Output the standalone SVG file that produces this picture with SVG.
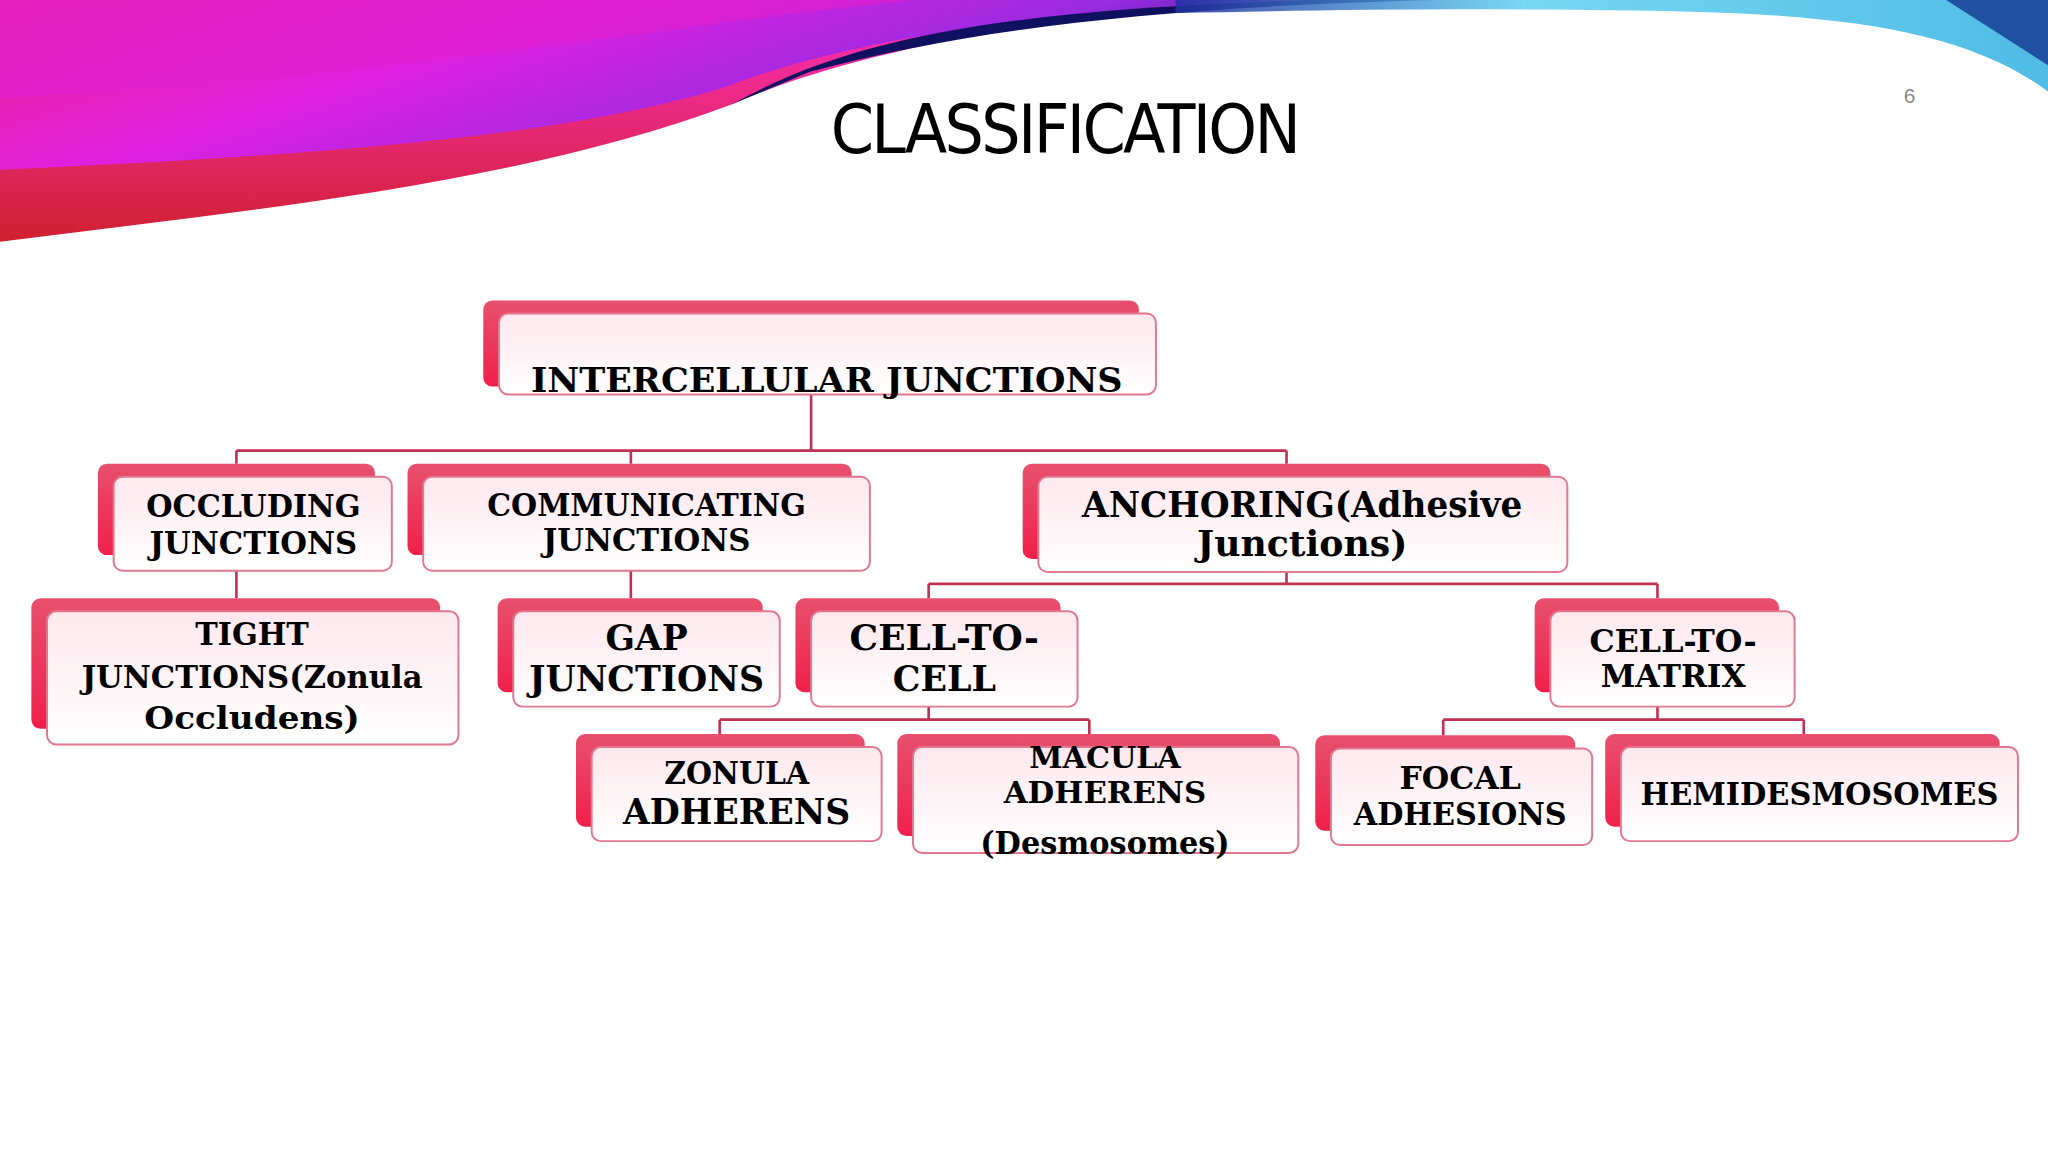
<svg xmlns="http://www.w3.org/2000/svg" width="2048" height="1152" viewBox="0 0 2048 1152">
<defs>
<linearGradient id="pk" x1="0" y1="0" x2="1" y2="0.4"><stop offset="0" stop-color="#f0208a"/><stop offset="0.4" stop-color="#e020e0"/><stop offset="0.75" stop-color="#9a2be0"/><stop offset="1" stop-color="#20208a"/></linearGradient>
<linearGradient id="rd" x1="0" y1="0" x2="0" y2="1"><stop offset="0" stop-color="#ff30c0"/><stop offset="1" stop-color="#d02030"/></linearGradient>
<linearGradient id="bl" x1="0" y1="0" x2="1" y2="0"><stop offset="0" stop-color="#2030a0"/><stop offset="0.4" stop-color="#60d0f0"/><stop offset="1" stop-color="#30b0e0"/></linearGradient>
<linearGradient id="fr" x1="0" y1="0" x2="0" y2="1"><stop offset="0" stop-color="#fde8ee"/><stop offset="1" stop-color="#ffffff"/></linearGradient>
<linearGradient id="bk" x1="0" y1="0" x2="0" y2="1"><stop offset="0" stop-color="#e8506e"/><stop offset="1" stop-color="#f0204a"/></linearGradient>
<style>
.b{fill:url(#bk)}
.f{fill:url(#fr);stroke:#e07890;stroke-width:1.5}
.t{font-family:"DejaVu Serif",serif;font-weight:bold;fill:#000;text-anchor:middle}
.c{stroke:#c03050;stroke-width:2;fill:none}
</style>
</defs>
<rect width="2048" height="1152" fill="#fff"/>
<g transform="scale(1.30612)">
<g id="bg">
<path d="M0,0 L1000,0 C800,10 650,40 560,80 C400,140 200,160 0,185 Z" fill="url(#rd)"/>
<path d="M0,0 L980,0 C800,8 650,30 560,65 C420,110 200,120 0,130 Z" fill="url(#pk)"/>
<path d="M0,0 L700,0 C500,20 300,60 0,75 Z" fill="#e020d0" opacity="0.7"/>
<path d="M560,80 C650,30 760,8 1000,0 L1100,0 C900,5 750,20 620,55 Z" fill="#101060"/>
<path d="M900,0 L1568,0 L1568,70 C1500,20 1400,10 1250,8 C1100,6 1000,8 900,10 Z" fill="url(#bl)" opacity="0.85"/>
<path d="M1490,0 L1568,0 L1568,50 Z" fill="#2050a0"/>
</g>
<text x="815" y="117" font-family="'Liberation Sans Narrow','DejaVu Sans Condensed',sans-serif" font-size="52" textLength="358" lengthAdjust="spacingAndGlyphs" text-anchor="middle" letter-spacing="-2">CLASSIFICATION</text>
<text x="1462" y="79" font-family="'Liberation Sans',sans-serif" font-size="16" fill="#888" text-anchor="middle">6</text>
<g id="connectors">
<path class="c" d="M621,302V345M181,345H985M181,345V355M483,345V355M985,345V355"/>
<path class="c" d="M181,437V458M483,437V458"/>
<path class="c" d="M985,438V447M711,447H1269M711,447V458M1269,447V458"/>
<path class="c" d="M711,541V551M551,551H834M551,551V562M834,551V562"/>
<path class="c" d="M1269,541V551M1105,551H1381M1105,551V563M1381,551V562"/>
</g>
<g id="n1"><rect class="b" x="370" y="230" width="502" height="66" rx="7"/><rect class="f" x="382" y="240" width="503" height="62" rx="7"/><text class="t" x="633" y="300" font-size="26" textLength="453" lengthAdjust="spacingAndGlyphs">INTERCELLULAR JUNCTIONS</text></g>
<g id="n2"><rect class="b" x="75" y="355" width="212" height="70" rx="7"/><rect class="f" x="87" y="365" width="213" height="72" rx="7"/><text class="t" font-size="24" x="194" y="396" textLength="164" lengthAdjust="spacingAndGlyphs">OCCLUDING</text><text class="t" font-size="24" x="194" y="424" textLength="159" lengthAdjust="spacingAndGlyphs">JUNCTIONS</text></g>
<g id="n3"><rect class="b" x="312" y="355" width="340" height="70" rx="7"/><rect class="f" x="324" y="365" width="342" height="72" rx="7"/><text class="t" font-size="24" x="495" y="395" textLength="244" lengthAdjust="spacingAndGlyphs">COMMUNICATING</text><text class="t" font-size="24" x="495" y="422" textLength="159" lengthAdjust="spacingAndGlyphs">JUNCTIONS</text></g>
<g id="n4"><rect class="b" x="783" y="355" width="404" height="73" rx="7"/><rect class="f" x="795" y="365" width="405" height="73" rx="7"/><text class="t" font-size="27" x="997" y="396" textLength="337" lengthAdjust="spacingAndGlyphs">ANCHORING(Adhesive</text><text class="t" font-size="27" x="997" y="426" textLength="161" lengthAdjust="spacingAndGlyphs">Junctions)</text></g>
<g id="n5"><rect class="b" x="24" y="458" width="313" height="100" rx="7"/><rect class="f" x="36" y="468" width="315" height="102" rx="7"/><text class="t" font-size="24" x="193" y="494" textLength="87" lengthAdjust="spacingAndGlyphs">TIGHT</text><text class="t" font-size="24" x="193" y="527" textLength="261" lengthAdjust="spacingAndGlyphs">JUNCTIONS(Zonula</text><text class="t" font-size="24" x="193" y="558" textLength="165" lengthAdjust="spacingAndGlyphs">Occludens)</text></g>
<g id="n6"><rect class="b" x="381" y="458" width="203" height="72" rx="7"/><rect class="f" x="393" y="468" width="204" height="73" rx="7"/><text class="t" font-size="27" x="495" y="498" textLength="63" lengthAdjust="spacingAndGlyphs">GAP</text><text class="t" font-size="27" x="495" y="529" textLength="180" lengthAdjust="spacingAndGlyphs">JUNCTIONS</text></g>
<g id="n7"><rect class="b" x="609" y="458" width="203" height="72" rx="7"/><rect class="f" x="621" y="468" width="204" height="73" rx="7"/><text class="t" font-size="27" x="723" y="498" textLength="145" lengthAdjust="spacingAndGlyphs">CELL-TO-</text><text class="t" font-size="27" x="723" y="529" textLength="79" lengthAdjust="spacingAndGlyphs">CELL</text></g>
<g id="n8"><rect class="b" x="1175" y="458" width="187" height="72" rx="7"/><rect class="f" x="1187" y="468" width="187" height="73" rx="7"/><text class="t" font-size="24" x="1281" y="499" textLength="128" lengthAdjust="spacingAndGlyphs">CELL-TO-</text><text class="t" font-size="24" x="1281" y="526" textLength="111" lengthAdjust="spacingAndGlyphs">MATRIX</text></g>
<g id="n9"><rect class="b" x="441" y="562" width="221" height="71" rx="7"/><rect class="f" x="453" y="572" width="222" height="72" rx="7"/><text class="t" font-size="24" x="564" y="600" textLength="111" lengthAdjust="spacingAndGlyphs">ZONULA</text><text class="t" font-size="27" x="564" y="631" textLength="174" lengthAdjust="spacingAndGlyphs">ADHERENS</text></g>
<g id="n10"><rect class="b" x="687" y="562" width="293" height="78" rx="7"/><rect class="f" x="699" y="572" width="295" height="81" rx="7"/><text class="t" font-size="23" x="846" y="588" textLength="116" lengthAdjust="spacingAndGlyphs">MACULA</text><text class="t" font-size="23" x="846" y="615" textLength="155" lengthAdjust="spacingAndGlyphs">ADHERENS</text><text class="t" font-size="24" x="846" y="654" textLength="191" lengthAdjust="spacingAndGlyphs">(Desmosomes)</text></g>
<g id="n11"><rect class="b" x="1007" y="563" width="199" height="73" rx="7"/><rect class="f" x="1019" y="573" width="200" height="74" rx="7"/><text class="t" font-size="24" x="1118" y="604" textLength="93" lengthAdjust="spacingAndGlyphs">FOCAL</text><text class="t" font-size="24" x="1118" y="632" textLength="163" lengthAdjust="spacingAndGlyphs">ADHESIONS</text></g>
<g id="n12"><rect class="b" x="1229" y="562" width="302" height="71" rx="7"/><rect class="f" x="1241" y="572" width="304" height="72" rx="7"/><text class="t" font-size="24" x="1393" y="616" textLength="274" lengthAdjust="spacingAndGlyphs">HEMIDESMOSOMES</text></g>
</g>
</svg>
